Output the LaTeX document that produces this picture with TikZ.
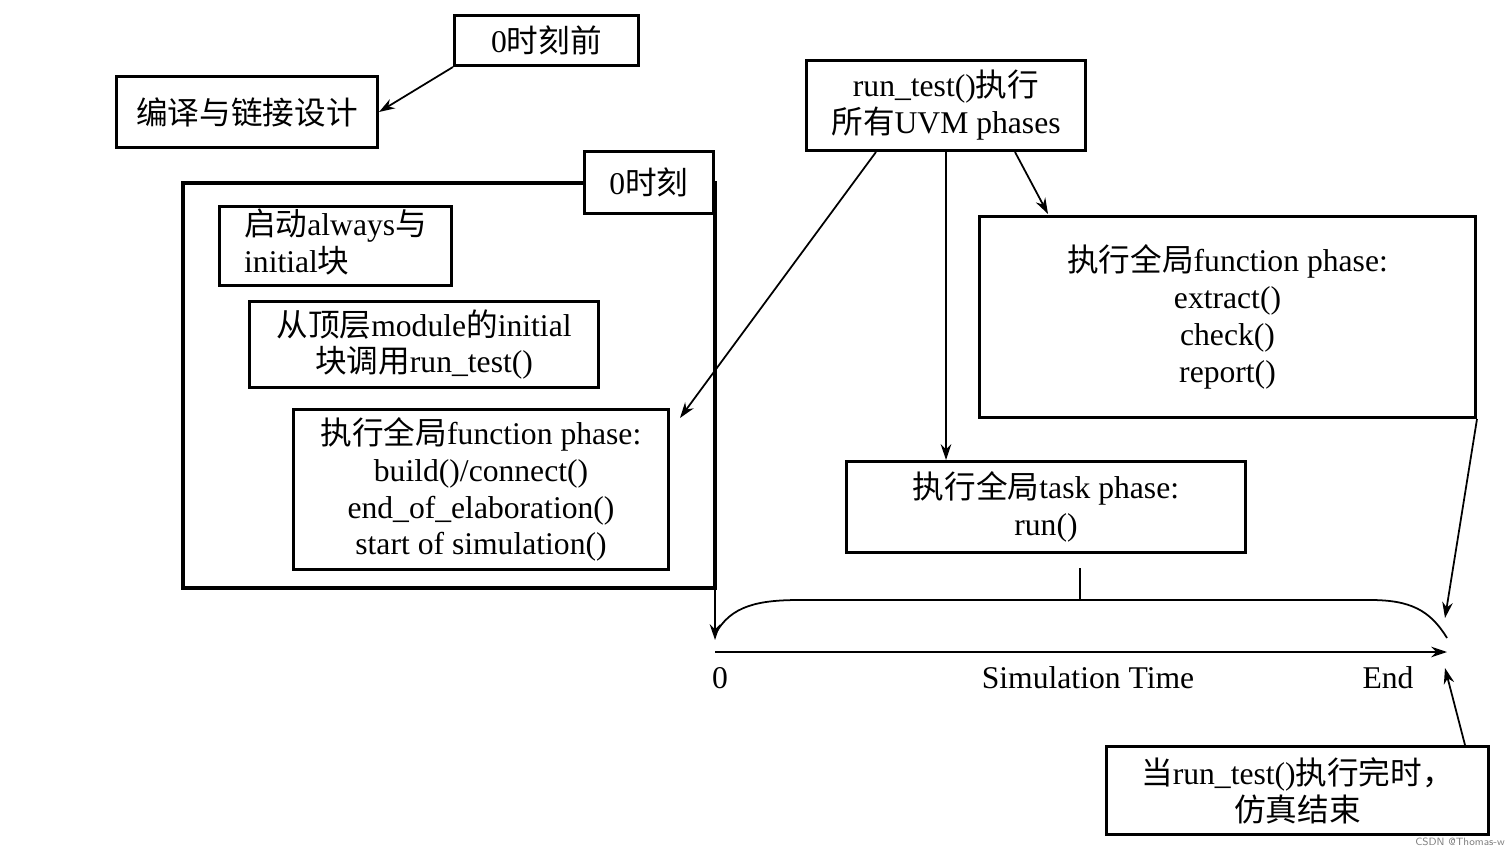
\documentclass[tikz,border=0pt]{standalone}
\usepackage{fontspec}
\setmainfont{Liberation Serif}
\newfontfamily\cjk{Noto Sans CJK SC}
\usetikzlibrary{arrows.meta}
\begin{document}
\begin{tikzpicture}[x=0.02cm,y=-0.02cm,
 bx/.style={draw,fill=white,line width=1.8pt,inner sep=0pt,align=center,font=\fontsize{18}{21}\selectfont},
 ar/.style={-{Stealth[length=9pt,width=6pt]},line width=1pt}]
\useasboundingbox (0,0) rectangle (1511,858);
\def\B#1#2#3#4#5#6{\node[bx,minimum width=#4*0.02cm-1.8pt,minimum height=#5*0.02cm-1.8pt,anchor=north west] (#1) at (#2,#3) {#6};}
\draw[line width=1.8pt] (183,183) rectangle (715,588);
\B{pre}{453}{14}{187}{53}{0{\cjk 时刻前}}
\B{comp}{115}{75}{264}{74}{{\cjk 编译与链接设计}}
\B{zero}{583}{150}{132}{65}{0{\cjk 时刻}}
\B{always}{218}{205}{235}{82}{\begin{tabular}{@{}l@{}}{\cjk 启动}always{\cjk 与}\\initial{\cjk 块}\end{tabular}}
\B{top}{248}{300}{352}{89}{{\cjk 从顶层}module{\cjk 的}initial\\{\cjk 块调用}run\_test()}
\B{fp}{292}{408}{378}{163}{{\cjk 执行全局}function phase:\\build()/connect()\\end\_of\_elaboration()\\start of simulation()}
\B{rt}{805}{59}{282}{93}{run\_test(){\cjk 执行}\\{\cjk 所有}UVM phases}
\B{fe}{978}{215}{499}{204}{{\cjk 执行全局}function phase:\\extract()\\check()\\report()}
\B{tp}{845}{460}{402}{94}{{\cjk 执行全局}task phase:\\run()}
\B{endb}{1105}{745}{385}{91}{{\cjk 当}run\_test(){\cjk 执行完时，}\\{\cjk 仿真结束}}
\coordinate (o) at (715,652); \coordinate (e) at (1447,652);
\draw[ar] (pre.south west) -- (comp.east);
\draw[ar] (876,152) -- (680,418);
\draw[ar] (946,152) -- (946,460);
\draw[ar] (1015,152) -- (1048,214);
\draw[ar] (fe.south east) -- (1445,618);
\draw[ar] (1465,745) -- (1445,668);
\draw[ar] (715,588) -- (715,640);
\draw[ar] (o) -- (e);
\draw[line width=1pt] (715,635) .. controls (730,605) and (760,600) .. (800,600) -- (1370,600) .. controls (1410,600) and (1430,610) .. (1447,638);
\draw[line width=1pt] (1080,568) -- (1080,600);
\node[font=\fontsize{18}{21}\selectfont] (l0) at (720,678) {0};
\node[font=\fontsize{18}{21}\selectfont] (ls) at (1088,678) {Simulation Time};
\node[font=\fontsize{18}{21}\selectfont] (le) at (1388,678) {End};
\node[font=\sffamily\fontsize{6}{7}\selectfont,text=gray,anchor=south east] (wm) at (1511,852) {CSDN @Thomas-w};
\end{tikzpicture}
\end{document}
